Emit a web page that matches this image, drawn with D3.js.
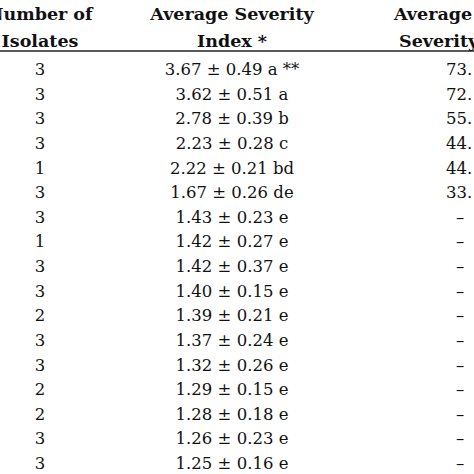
<!DOCTYPE html>
<html><head><meta charset="utf-8">
<script src="https://cdn.jsdelivr.net/npm/d3@7"></script>
<style>body{margin:0;background:#fff}text{font-family:"DejaVu Serif","Liberation Serif",serif;fill:#111}</style>
</head><body><svg id="t" width="474" height="474"></svg>
<script>
// --- Data ---
const isolates = [3, 3, 3, 3, 1, 3, 3, 1, 3, 3, 2, 3, 3, 2, 2, 3, 3];
const means = ["3.67", "3.62", "2.78", "2.23", "2.22", "1.67", "1.43", "1.42", "1.42", "1.40", "1.39", "1.37", "1.32", "1.29", "1.28", "1.26", "1.25"];
const sds = ["0.49", "0.51", "0.39", "0.28", "0.21", "0.26", "0.23", "0.27", "0.37", "0.15", "0.21", "0.24", "0.26", "0.15", "0.18", "0.23", "0.16"];
const groups = ["a **", "a", "b", "c", "bd", "de", "e", "e", "e", "e", "e", "e", "e", "e", "e", "e", "e"];
const severity = ["73.", "72.", "55.", "44.", "44.", "33.", "–", "–", "–", "–", "–", "–", "–", "–", "–", "–", "–"];

const svg = d3.select("#t");
const y = d3.scaleLinear().domain([0, isolates.length - 1]).range([69, 463]);

// headers
const head = [
  {x: 40, a: "middle", l: ["Number of", "Isolates"]},
  {x: 232, a: "middle", l: ["Average Severity", "Index *"]},
  {x: 394, a: "start", l: ["Average", "Severity"]}
];
head.forEach(h => h.l.forEach((t, i) => svg.append("text")
  .attr("x", h.x + (h.a === "start" && i === 1 ? 5 : 0)).attr("y", 20 + i * 27)
  .attr("text-anchor", h.a).attr("font-size", 17.5).attr("font-weight", "bold").text(t)));

svg.append("line").attr("x1", 0).attr("x2", 474).attr("y1", 51).attr("y2", 51)
  .attr("stroke", "#222").attr("stroke-width", 1.5);

const rows = svg.selectAll("g.row").data(isolates).join("g").attr("class", "row")
  .attr("transform", (d, i) => `translate(0,${y(i) + 6})`);
rows.append("text").attr("x", 40).attr("text-anchor", "middle").attr("font-size", 16.5).text(d => d);
rows.append("text").attr("x", 232).attr("text-anchor", "middle").attr("font-size", 16.5)
  .text((d, i) => `${means[i]} ± ${sds[i]} ${groups[i]}`);
rows.append("text").attr("x", (d, i) => severity[i] === "–" ? 456 : 446).attr("font-size", 16.5)
  .text((d, i) => severity[i]);
</script></body></html>
